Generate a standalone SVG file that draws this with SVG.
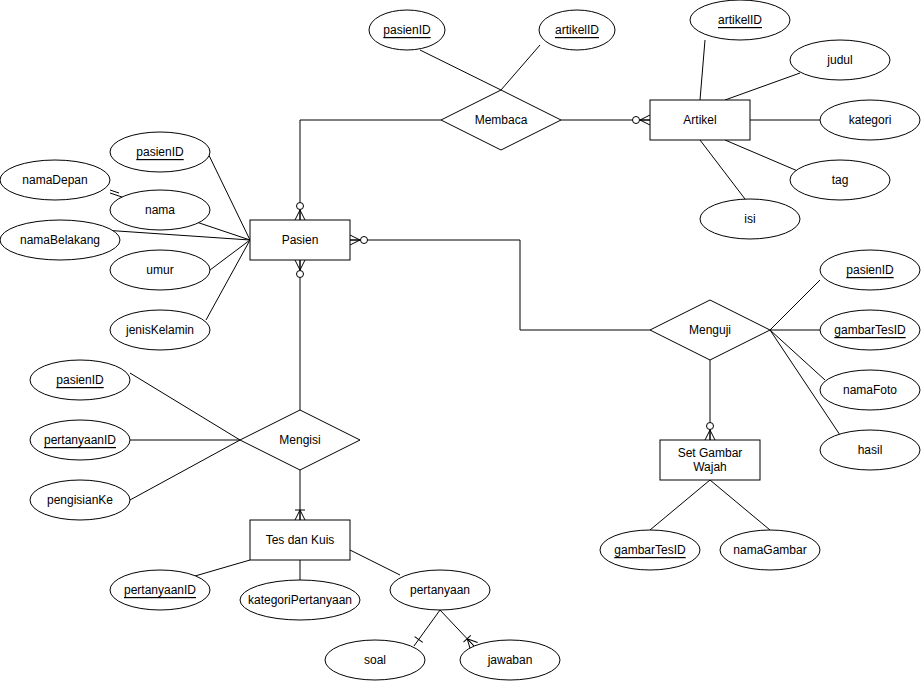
<svg xmlns="http://www.w3.org/2000/svg" width="921" height="681" viewBox="0 0 921 681">
<style>
.e{fill:#fff;stroke:#000;stroke-width:1}
.t{font-family:"Liberation Sans",Arial,sans-serif;font-size:12px;fill:#000;text-anchor:middle;dominant-baseline:central}
.u{text-decoration:underline}
.c{fill:none;stroke:#000;stroke-width:1}
</style>
<defs>
<marker id="zm" markerUnits="userSpaceOnUse" viewBox="-20 -10 21 20" refX="0" refY="0" markerWidth="21" markerHeight="20" orient="auto">
<path d="M-10 0L0 -5M-10 0L0 5M-10 0L0 0" fill="none" stroke="#000"/><circle cx="-14" cy="0" r="3.5" fill="#fff" stroke="#000"/></marker>
<marker id="om" markerUnits="userSpaceOnUse" viewBox="-20 -10 21 20" refX="0" refY="0" markerWidth="21" markerHeight="20" orient="auto">
<path d="M-10 0L0 -5M-10 0L0 5M-10 0L0 0M-10 -5L-10 5" fill="none" stroke="#000"/></marker>
<marker id="one" markerUnits="userSpaceOnUse" viewBox="-20 -10 21 20" refX="0" refY="0" markerWidth="21" markerHeight="20" orient="auto">
<path d="M-8 -5L-8 5" fill="none" stroke="#000"/></marker>
</defs>
<rect width="921" height="681" fill="#fff"/>
<g id="connectors" class="c">
<path d="M441 120H300V220" marker-end="url(#zm)"/>
<path d="M561 120H650" marker-end="url(#zm)"/>
<path d="M300 410V260" marker-end="url(#zm)"/>
<path d="M650 330H520V240H350" marker-end="url(#zm)"/>
<path d="M710 360V440" marker-end="url(#zm)"/>
<path d="M300 470V520" marker-end="url(#om)"/>
<path d="M440 610L414 646" marker-end="url(#one)"/>
<path d="M440 610L474 646" marker-end="url(#om)"/>
<path d="M420 50L501 90M540 45L501 90"/>
<path d="M705 40L700 100M800 73L725 100M820 120H750M800 172L725 140M745 199L700 140"/>
<path d="M203 143L250 240M110 193L250 240M103 230L250 240M210 270L250 240M206 320L250 240"/>
<path d="M119 193L110 190"/>
<path d="M820 280L770 330M820 330H770M825 380L770 330M840 435L770 330"/>
<path d="M650 530L710 480M770 530L710 480"/>
<path d="M130 373L240 440M130 440H240M130 500L240 440"/>
<path d="M195 576L250 560M300 580V560M400 575L350 550"/>
</g>
<g id="Pasien"><rect class="e" x="250" y="220" width="100" height="40"/><text class="t" x="300" y="240">Pasien</text></g>
<g id="Artikel"><rect class="e" x="650" y="100" width="100" height="40"/><text class="t" x="700" y="120">Artikel</text></g>
<g id="SetGambarWajah"><rect class="e" x="660" y="440" width="100" height="40"/><text class="t" x="710" y="453">Set Gambar</text><text class="t" x="710" y="467">Wajah</text></g>
<g id="TesDanKuis"><rect class="e" x="250" y="520" width="100" height="40"/><text class="t" x="300" y="540">Tes dan Kuis</text></g>
<g id="Membaca"><path class="e" d="M441 120L501 90L561 120L501 150Z"/><text class="t" x="501" y="120">Membaca</text></g>
<g id="Menguji"><path class="e" d="M650 330L710 300L770 330L710 360Z"/><text class="t" x="710" y="330">Menguji</text></g>
<g id="Mengisi"><path class="e" d="M240 440L300 410L360 440L300 470Z"/><text class="t" x="300" y="440">Mengisi</text></g>
<g id="a_pasienID1"><ellipse class="e" cx="407" cy="30" rx="38" ry="20"/><text class="t u" x="407" y="30">pasienID</text></g>
<g id="a_artikelID1"><ellipse class="e" cx="577" cy="30" rx="38" ry="20"/><text class="t u" x="577" y="30">artikelID</text></g>
<g id="a_artikelID2"><ellipse class="e" cx="740" cy="20" rx="50" ry="20"/><text class="t u" x="740" y="20">artikelID</text></g>
<g id="a_judul"><ellipse class="e" cx="840" cy="60" rx="50" ry="20"/><text class="t" x="840" y="60">judul</text></g>
<g id="a_kategori"><ellipse class="e" cx="870" cy="120" rx="50" ry="20"/><text class="t" x="870" y="120">kategori</text></g>
<g id="a_tag"><ellipse class="e" cx="840" cy="180" rx="50" ry="20"/><text class="t" x="840" y="180">tag</text></g>
<g id="a_isi"><ellipse class="e" cx="750" cy="219" rx="50" ry="20"/><text class="t" x="750" y="219">isi</text></g>
<g id="a_pasienID2"><ellipse class="e" cx="160" cy="152" rx="50" ry="20"/><text class="t u" x="160" y="152">pasienID</text></g>
<g id="a_namaDepan"><ellipse class="e" cx="55" cy="180" rx="55" ry="20"/><text class="t" x="55" y="180">namaDepan</text></g>
<g id="a_nama"><ellipse class="e" cx="160" cy="210" rx="50" ry="20"/><text class="t" x="160" y="210">nama</text></g>
<g id="a_namaBelakang"><ellipse class="e" cx="60" cy="240" rx="60" ry="20"/><text class="t" x="60" y="240">namaBelakang</text></g>
<g id="a_umur"><ellipse class="e" cx="160" cy="270" rx="50" ry="20"/><text class="t" x="160" y="270">umur</text></g>
<g id="a_jenisKelamin"><ellipse class="e" cx="160" cy="330" rx="50" ry="20"/><text class="t" x="160" y="330">jenisKelamin</text></g>
<g id="a_pasienID3"><ellipse class="e" cx="870" cy="270" rx="50" ry="20"/><text class="t u" x="870" y="270">pasienID</text></g>
<g id="a_gambarTesID1"><ellipse class="e" cx="870" cy="330" rx="50" ry="20"/><text class="t u" x="870" y="330">gambarTesID</text></g>
<g id="a_namaFoto"><ellipse class="e" cx="870" cy="390" rx="50" ry="20"/><text class="t" x="870" y="390">namaFoto</text></g>
<g id="a_hasil"><ellipse class="e" cx="870" cy="450" rx="50" ry="20"/><text class="t" x="870" y="450">hasil</text></g>
<g id="a_gambarTesID2"><ellipse class="e" cx="650" cy="550" rx="50" ry="20"/><text class="t u" x="650" y="550">gambarTesID</text></g>
<g id="a_namaGambar"><ellipse class="e" cx="770" cy="550" rx="50" ry="20"/><text class="t" x="770" y="550">namaGambar</text></g>
<g id="a_pasienID4"><ellipse class="e" cx="80" cy="380" rx="50" ry="20"/><text class="t u" x="80" y="380">pasienID</text></g>
<g id="a_pertanyaanID1"><ellipse class="e" cx="80" cy="440" rx="50" ry="20"/><text class="t u" x="80" y="440">pertanyaanID</text></g>
<g id="a_pengisianKe"><ellipse class="e" cx="80" cy="500" rx="50" ry="20"/><text class="t" x="80" y="500">pengisianKe</text></g>
<g id="a_pertanyaanID2"><ellipse class="e" cx="160" cy="590" rx="50" ry="20"/><text class="t u" x="160" y="590">pertanyaanID</text></g>
<g id="a_kategoriPertanyaan"><ellipse class="e" cx="300" cy="600" rx="60" ry="20"/><text class="t" x="300" y="600">kategoriPertanyaan</text></g>
<g id="a_pertanyaan"><ellipse class="e" cx="440" cy="590" rx="50" ry="20"/><text class="t" x="440" y="590">pertanyaan</text></g>
<g id="a_soal"><ellipse class="e" cx="375" cy="660" rx="50" ry="20"/><text class="t" x="375" y="660">soal</text></g>
<g id="a_jawaban"><ellipse class="e" cx="510" cy="660" rx="50" ry="20"/><text class="t" x="510" y="660">jawaban</text></g>
</svg>
